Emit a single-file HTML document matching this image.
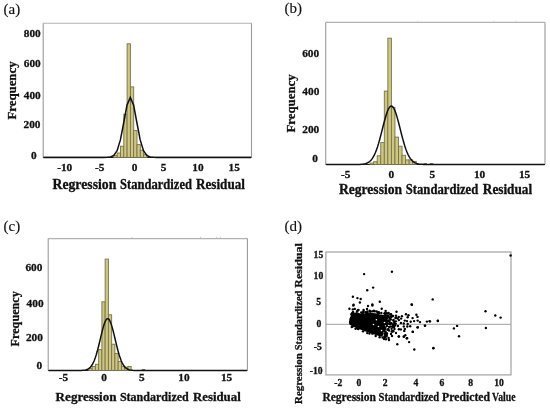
<!DOCTYPE html>
<html><head><meta charset="utf-8"><title>Figure</title>
<style>html,body{margin:0;padding:0;background:#fff;width:550px;height:408px;overflow:hidden}svg{display:block}</style>
</head><body>
<svg width="550" height="408" viewBox="0 0 550 408" font-family="'Liberation Serif', serif" fill="#111">
<style>text{stroke:#111;stroke-width:0.3px} text.n{stroke-width:0.15px}</style>
<rect width="550" height="408" fill="#fff"/>
<text class="n" x="3.60" y="13.60" font-size="15" font-weight="normal" text-anchor="start" >(a)</text>
<line x1="43.2" y1="23.3" x2="251.5" y2="23.3" stroke="#b2b2b2" stroke-width="1.1"/>
<path d="M43.2,157.4 V23.3 M251.5,23.3 V157.4" fill="none" stroke="#9a9a9a" stroke-width="1.1"/>
<line x1="43.2" y1="157.4" x2="251.5" y2="157.4" stroke="#202020" stroke-width="1.1"/>
<rect x="113.90" y="155.30" width="3.30" height="2.10" fill="#cfc680" stroke="#77724c" stroke-width="0.9"/>
<rect x="117.20" y="153.00" width="3.30" height="4.40" fill="#cfc680" stroke="#77724c" stroke-width="0.9"/>
<rect x="120.50" y="146.20" width="3.30" height="11.20" fill="#cfc680" stroke="#77724c" stroke-width="0.9"/>
<rect x="123.80" y="114.20" width="3.30" height="43.20" fill="#cfc680" stroke="#77724c" stroke-width="0.9"/>
<rect x="127.10" y="43.80" width="3.30" height="113.60" fill="#cfc680" stroke="#77724c" stroke-width="0.9"/>
<rect x="130.40" y="86.90" width="3.30" height="70.50" fill="#cfc680" stroke="#77724c" stroke-width="0.9"/>
<rect x="133.70" y="130.60" width="3.30" height="26.80" fill="#cfc680" stroke="#77724c" stroke-width="0.9"/>
<rect x="137.00" y="144.60" width="3.30" height="12.80" fill="#cfc680" stroke="#77724c" stroke-width="0.9"/>
<rect x="140.30" y="150.20" width="3.30" height="7.20" fill="#cfc680" stroke="#77724c" stroke-width="0.9"/>
<rect x="143.60" y="154.50" width="3.30" height="2.90" fill="#cfc680" stroke="#77724c" stroke-width="0.9"/>
<polyline points="43.70,157.40 44.50,157.40 47.80,157.40 51.10,157.40 54.40,157.40 57.70,157.40 61.00,157.40 64.30,157.40 67.60,157.40 70.90,157.40 74.20,157.40 77.50,157.40 80.80,157.40 84.10,157.40 87.40,157.40 90.70,157.40 94.00,157.40 97.30,157.40 100.60,157.40 103.90,157.39 107.20,157.33 110.50,156.97 113.80,155.46 117.10,150.72 120.40,139.94 123.70,122.74 127.00,105.09 130.30,97.40 133.60,105.09 136.90,122.74 140.20,139.94 143.50,150.72 146.80,155.46 150.10,156.97 153.40,157.33 156.70,157.39 160.00,157.40 163.30,157.40 166.60,157.40 169.90,157.40 173.20,157.40 176.50,157.40 179.80,157.40 183.10,157.40 186.40,157.40 189.70,157.40 193.00,157.40 196.30,157.40 199.60,157.40 202.90,157.40 206.20,157.40 209.50,157.40 212.80,157.40 216.10,157.40 219.40,157.40 222.70,157.40 226.00,157.40 229.30,157.40 232.60,157.40 235.90,157.40 239.20,157.40 242.50,157.40 245.80,157.40 249.10,157.40 251.00,157.40" fill="none" stroke="#111" stroke-width="1.5"/>
<text x="32.25" y="37.15" font-size="11.3" font-weight="bold" text-anchor="middle" >800</text>
<text x="32.30" y="66.90" font-size="11.3" font-weight="bold" text-anchor="middle" >600</text>
<text x="32.30" y="99.40" font-size="11.3" font-weight="bold" text-anchor="middle" >400</text>
<text x="32.00" y="128.00" font-size="11.3" font-weight="bold" text-anchor="middle" >200</text>
<text x="33.90" y="158.50" font-size="11.3" font-weight="bold" text-anchor="middle" >0</text>
<text x="64.70" y="170.70" font-size="11.3" font-weight="bold" text-anchor="middle" >-10</text>
<text x="99.60" y="170.70" font-size="11.3" font-weight="bold" text-anchor="middle" >-5</text>
<text x="134.70" y="170.70" font-size="11.3" font-weight="bold" text-anchor="middle" >0</text>
<text x="163.50" y="170.70" font-size="11.3" font-weight="bold" text-anchor="middle" >5</text>
<text x="198.00" y="170.70" font-size="11.3" font-weight="bold" text-anchor="middle" >10</text>
<text x="234.20" y="170.70" font-size="11.3" font-weight="bold" text-anchor="middle" >15</text>
<text x="52.50" y="189.20" font-size="13.7" font-weight="bold" textLength="63.80" lengthAdjust="spacingAndGlyphs">Regression</text>
<text x="120.00" y="189.20" font-size="13.7" font-weight="bold" textLength="72.00" lengthAdjust="spacingAndGlyphs">Standardized</text>
<text x="196.00" y="189.20" font-size="13.7" font-weight="bold" textLength="49.00" lengthAdjust="spacingAndGlyphs">Residual</text>
<text x="0" y="0" font-size="13.3" font-weight="bold" textLength="58.20" lengthAdjust="spacingAndGlyphs" transform="translate(16.00,119.60) rotate(-90)">Frequency</text>
<text class="n" x="284.50" y="13.30" font-size="15" font-weight="normal" text-anchor="start" >(b)</text>
<line x1="325.7" y1="22.4" x2="545.0" y2="22.4" stroke="#b2b2b2" stroke-width="1.1"/>
<path d="M325.7,164.5 V22.4 M545.0,22.4 V164.5" fill="none" stroke="#9a9a9a" stroke-width="1.1"/>
<line x1="325.7" y1="164.5" x2="545.0" y2="164.5" stroke="#202020" stroke-width="1.1"/>
<line x1="417.7" y1="20.799999999999997" x2="417.7" y2="22.4" stroke="#c8c8c8" stroke-width="0.8"/>
<line x1="494.0" y1="20.799999999999997" x2="494.0" y2="22.4" stroke="#c8c8c8" stroke-width="0.8"/>
<line x1="515.8" y1="20.799999999999997" x2="515.8" y2="22.4" stroke="#c8c8c8" stroke-width="0.8"/>
<rect x="370.10" y="163.10" width="3.55" height="1.40" fill="#cfc680" stroke="#77724c" stroke-width="0.9"/>
<rect x="373.65" y="161.70" width="3.55" height="2.80" fill="#cfc680" stroke="#77724c" stroke-width="0.9"/>
<rect x="377.20" y="155.80" width="3.55" height="8.70" fill="#cfc680" stroke="#77724c" stroke-width="0.9"/>
<rect x="380.75" y="142.60" width="3.55" height="21.90" fill="#cfc680" stroke="#77724c" stroke-width="0.9"/>
<rect x="384.30" y="91.10" width="3.55" height="73.40" fill="#cfc680" stroke="#77724c" stroke-width="0.9"/>
<rect x="387.85" y="38.20" width="3.55" height="126.30" fill="#cfc680" stroke="#77724c" stroke-width="0.9"/>
<rect x="391.40" y="107.50" width="3.55" height="57.00" fill="#cfc680" stroke="#77724c" stroke-width="0.9"/>
<rect x="394.95" y="137.10" width="3.55" height="27.40" fill="#cfc680" stroke="#77724c" stroke-width="0.9"/>
<rect x="398.50" y="146.20" width="3.55" height="18.30" fill="#cfc680" stroke="#77724c" stroke-width="0.9"/>
<rect x="402.05" y="155.30" width="3.55" height="9.20" fill="#cfc680" stroke="#77724c" stroke-width="0.9"/>
<rect x="405.60" y="159.90" width="3.55" height="4.60" fill="#cfc680" stroke="#77724c" stroke-width="0.9"/>
<rect x="409.15" y="159.90" width="3.55" height="4.60" fill="#cfc680" stroke="#77724c" stroke-width="0.9"/>
<rect x="412.70" y="161.40" width="3.55" height="3.10" fill="#cfc680" stroke="#77724c" stroke-width="0.9"/>
<rect x="423.4" y="163.0" width="3.5" height="1.2" fill="#77724c"/>
<rect x="429.8" y="163.0" width="3.5" height="1.2" fill="#77724c"/>
<polyline points="326.20,164.50 327.29,164.50 328.38,164.50 329.47,164.50 330.57,164.50 331.66,164.50 332.75,164.50 333.84,164.50 334.93,164.50 336.02,164.50 337.12,164.50 338.21,164.50 339.30,164.50 340.39,164.50 341.48,164.50 342.57,164.50 343.66,164.50 344.76,164.50 345.85,164.50 346.94,164.50 348.03,164.50 349.12,164.50 350.21,164.50 351.30,164.50 352.40,164.50 353.49,164.49 354.58,164.49 355.67,164.48 356.76,164.47 357.85,164.45 358.94,164.42 360.04,164.38 361.13,164.31 362.22,164.22 363.31,164.08 364.40,163.89 365.49,163.63 366.59,163.26 367.68,162.77 368.77,162.13 369.86,161.29 370.95,160.21 372.04,158.87 373.13,157.21 374.23,155.21 375.32,152.83 376.41,150.07 377.50,146.92 378.59,143.39 379.68,139.54 380.77,135.43 381.87,131.14 382.96,126.80 384.05,122.52 385.14,118.46 386.23,114.75 387.32,111.56 388.42,108.99 389.51,107.18 390.60,106.18 391.69,106.06 392.78,106.80 393.87,108.39 394.96,110.75 396.06,113.78 397.15,117.36 398.24,121.33 399.33,125.56 400.42,129.90 401.51,134.22 402.61,138.39 403.70,142.32 404.79,145.95 405.88,149.21 406.97,152.09 408.06,154.57 409.15,156.68 410.25,158.43 411.34,159.86 412.43,161.01 413.52,161.91 414.61,162.61 415.70,163.14 416.79,163.53 417.89,163.82 418.98,164.04 420.07,164.19 421.16,164.29 422.25,164.36 423.34,164.41 424.44,164.44 425.53,164.46 426.62,164.48 427.71,164.49 428.80,164.49 429.89,164.50 430.98,164.50 432.08,164.50 433.17,164.50 434.26,164.50 435.35,164.50 436.44,164.50 437.53,164.50 438.62,164.50 439.72,164.50 440.81,164.50 441.90,164.50 442.99,164.50 444.08,164.50 445.17,164.50 446.26,164.50 447.36,164.50 448.45,164.50 449.54,164.50 450.63,164.50 451.72,164.50 452.81,164.50 453.91,164.50 455.00,164.50 456.09,164.50 457.18,164.50 458.27,164.50 459.36,164.50 460.45,164.50 461.55,164.50 462.64,164.50 463.73,164.50 464.82,164.50 465.91,164.50 467.00,164.50 468.10,164.50 469.19,164.50 470.28,164.50 471.37,164.50 472.46,164.50 473.55,164.50 474.64,164.50 475.74,164.50 476.83,164.50 477.92,164.50 479.01,164.50 480.10,164.50 481.19,164.50 482.28,164.50 483.38,164.50 484.47,164.50 485.56,164.50 486.65,164.50 487.74,164.50 488.83,164.50 489.92,164.50 491.02,164.50 492.11,164.50 493.20,164.50 494.29,164.50 495.38,164.50 496.47,164.50 497.57,164.50 498.66,164.50 499.75,164.50 500.84,164.50 501.93,164.50 503.02,164.50 504.11,164.50 505.21,164.50 506.30,164.50 507.39,164.50 508.48,164.50 509.57,164.50 510.66,164.50 511.75,164.50 512.85,164.50 513.94,164.50 515.03,164.50 516.12,164.50 517.21,164.50 518.30,164.50 519.40,164.50 520.49,164.50 521.58,164.50 522.67,164.50 523.76,164.50 524.85,164.50 525.94,164.50 527.04,164.50 528.13,164.50 529.22,164.50 530.31,164.50 531.40,164.50 532.49,164.50 533.59,164.50 534.68,164.50 535.77,164.50 536.86,164.50 537.95,164.50 539.04,164.50 540.13,164.50 541.23,164.50 542.32,164.50 543.41,164.50 544.50,164.50" fill="none" stroke="#111" stroke-width="1.5"/>
<text x="310.65" y="57.10" font-size="11.3" font-weight="bold" text-anchor="middle" >600</text>
<text x="310.85" y="95.20" font-size="11.3" font-weight="bold" text-anchor="middle" >400</text>
<text x="310.80" y="132.90" font-size="11.3" font-weight="bold" text-anchor="middle" >200</text>
<text x="315.00" y="162.30" font-size="11.3" font-weight="bold" text-anchor="middle" >0</text>
<text x="345.70" y="177.70" font-size="11.3" font-weight="bold" text-anchor="middle" >-5</text>
<text x="391.30" y="177.70" font-size="11.3" font-weight="bold" text-anchor="middle" >0</text>
<text x="432.40" y="177.70" font-size="11.3" font-weight="bold" text-anchor="middle" >5</text>
<text x="479.60" y="177.70" font-size="11.3" font-weight="bold" text-anchor="middle" >10</text>
<text x="524.60" y="177.70" font-size="11.3" font-weight="bold" text-anchor="middle" >15</text>
<text x="338.90" y="193.60" font-size="13.7" font-weight="bold" textLength="63.20" lengthAdjust="spacingAndGlyphs">Regression</text>
<text x="405.80" y="193.60" font-size="13.7" font-weight="bold" textLength="72.40" lengthAdjust="spacingAndGlyphs">Standardized</text>
<text x="482.80" y="193.60" font-size="13.7" font-weight="bold" textLength="49.40" lengthAdjust="spacingAndGlyphs">Residual</text>
<text x="0" y="0" font-size="13.3" font-weight="bold" textLength="58.10" lengthAdjust="spacingAndGlyphs" transform="translate(294.90,132.50) rotate(-90)">Frequency</text>
<text class="n" x="3.50" y="230.90" font-size="15" font-weight="normal" text-anchor="start" >(c)</text>
<line x1="48.2" y1="238.6" x2="247.4" y2="238.6" stroke="#b2b2b2" stroke-width="1.1"/>
<path d="M48.2,370.5 V238.6 M247.4,238.6 V370.5" fill="none" stroke="#9a9a9a" stroke-width="1.1"/>
<line x1="48.2" y1="370.5" x2="247.4" y2="370.5" stroke="#202020" stroke-width="1.1"/>
<line x1="132" y1="236.79999999999998" x2="132" y2="238.6" stroke="#bbb" stroke-width="0.8"/>
<line x1="200.6" y1="236.79999999999998" x2="200.6" y2="238.6" stroke="#bbb" stroke-width="0.8"/>
<line x1="216.8" y1="236.79999999999998" x2="216.8" y2="238.6" stroke="#bbb" stroke-width="0.8"/>
<line x1="220.4" y1="236.79999999999998" x2="220.4" y2="238.6" stroke="#bbb" stroke-width="0.8"/>
<rect x="88.90" y="368.30" width="3.25" height="2.20" fill="#cfc680" stroke="#77724c" stroke-width="0.9"/>
<rect x="92.15" y="366.50" width="3.25" height="4.00" fill="#cfc680" stroke="#77724c" stroke-width="0.9"/>
<rect x="95.40" y="364.30" width="3.25" height="6.20" fill="#cfc680" stroke="#77724c" stroke-width="0.9"/>
<rect x="98.65" y="349.60" width="3.25" height="20.90" fill="#cfc680" stroke="#77724c" stroke-width="0.9"/>
<rect x="101.90" y="301.80" width="3.25" height="68.70" fill="#cfc680" stroke="#77724c" stroke-width="0.9"/>
<rect x="105.15" y="259.10" width="3.25" height="111.40" fill="#cfc680" stroke="#77724c" stroke-width="0.9"/>
<rect x="108.40" y="314.80" width="3.25" height="55.70" fill="#cfc680" stroke="#77724c" stroke-width="0.9"/>
<rect x="111.65" y="344.20" width="3.25" height="26.30" fill="#cfc680" stroke="#77724c" stroke-width="0.9"/>
<rect x="114.90" y="353.40" width="3.25" height="17.10" fill="#cfc680" stroke="#77724c" stroke-width="0.9"/>
<rect x="118.15" y="361.40" width="3.25" height="9.10" fill="#cfc680" stroke="#77724c" stroke-width="0.9"/>
<rect x="121.40" y="366.20" width="3.25" height="4.30" fill="#cfc680" stroke="#77724c" stroke-width="0.9"/>
<rect x="124.65" y="367.20" width="3.25" height="3.30" fill="#cfc680" stroke="#77724c" stroke-width="0.9"/>
<rect x="127.90" y="366.40" width="3.25" height="4.10" fill="#cfc680" stroke="#77724c" stroke-width="0.9"/>
<rect x="141.8" y="369.0" width="3.4" height="1.2" fill="#77724c"/>
<polyline points="48.70,370.50 49.69,370.50 50.68,370.50 51.67,370.50 52.66,370.50 53.66,370.50 54.65,370.50 55.64,370.50 56.63,370.50 57.62,370.50 58.61,370.50 59.60,370.50 60.59,370.50 61.58,370.50 62.57,370.50 63.57,370.50 64.56,370.50 65.55,370.50 66.54,370.50 67.53,370.50 68.52,370.50 69.51,370.50 70.50,370.50 71.49,370.50 72.48,370.50 73.47,370.50 74.47,370.50 75.46,370.50 76.45,370.49 77.44,370.49 78.43,370.48 79.42,370.47 80.41,370.44 81.40,370.41 82.39,370.35 83.39,370.27 84.38,370.14 85.37,369.95 86.36,369.69 87.35,369.32 88.34,368.81 89.33,368.12 90.32,367.21 91.31,366.03 92.30,364.54 93.30,362.70 94.29,360.46 95.28,357.82 96.27,354.76 97.26,351.32 98.25,347.54 99.24,343.50 100.23,339.31 101.22,335.12 102.21,331.07 103.21,327.34 104.20,324.10 105.19,321.51 106.18,319.69 107.17,318.73 108.16,318.70 109.15,319.59 110.14,321.35 111.13,323.89 112.12,327.09 113.12,330.79 114.11,334.82 115.10,339.01 116.09,343.20 117.08,347.25 118.07,351.06 119.06,354.53 120.05,357.61 121.04,360.29 122.03,362.55 123.03,364.42 124.02,365.93 125.01,367.13 126.00,368.06 126.99,368.76 127.98,369.29 128.97,369.67 129.96,369.94 130.95,370.13 131.94,370.26 132.94,370.35 133.93,370.40 134.92,370.44 135.91,370.46 136.90,370.48 137.89,370.49 138.88,370.49 139.87,370.50 140.86,370.50 141.85,370.50 142.84,370.50 143.84,370.50 144.83,370.50 145.82,370.50 146.81,370.50 147.80,370.50 148.79,370.50 149.78,370.50 150.77,370.50 151.76,370.50 152.75,370.50 153.75,370.50 154.74,370.50 155.73,370.50 156.72,370.50 157.71,370.50 158.70,370.50 159.69,370.50 160.68,370.50 161.67,370.50 162.67,370.50 163.66,370.50 164.65,370.50 165.64,370.50 166.63,370.50 167.62,370.50 168.61,370.50 169.60,370.50 170.59,370.50 171.58,370.50 172.57,370.50 173.57,370.50 174.56,370.50 175.55,370.50 176.54,370.50 177.53,370.50 178.52,370.50 179.51,370.50 180.50,370.50 181.49,370.50 182.49,370.50 183.48,370.50 184.47,370.50 185.46,370.50 186.45,370.50 187.44,370.50 188.43,370.50 189.42,370.50 190.41,370.50 191.40,370.50 192.39,370.50 193.39,370.50 194.38,370.50 195.37,370.50 196.36,370.50 197.35,370.50 198.34,370.50 199.33,370.50 200.32,370.50 201.31,370.50 202.31,370.50 203.30,370.50 204.29,370.50 205.28,370.50 206.27,370.50 207.26,370.50 208.25,370.50 209.24,370.50 210.23,370.50 211.22,370.50 212.21,370.50 213.21,370.50 214.20,370.50 215.19,370.50 216.18,370.50 217.17,370.50 218.16,370.50 219.15,370.50 220.14,370.50 221.13,370.50 222.12,370.50 223.12,370.50 224.11,370.50 225.10,370.50 226.09,370.50 227.08,370.50 228.07,370.50 229.06,370.50 230.05,370.50 231.04,370.50 232.04,370.50 233.03,370.50 234.02,370.50 235.01,370.50 236.00,370.50 236.99,370.50 237.98,370.50 238.97,370.50 239.96,370.50 240.95,370.50 241.94,370.50 242.94,370.50 243.93,370.50 244.92,370.50 245.91,370.50 246.90,370.50" fill="none" stroke="#111" stroke-width="1.5"/>
<text x="33.90" y="271.40" font-size="11.3" font-weight="bold" text-anchor="middle" >600</text>
<text x="35.10" y="307.20" font-size="11.3" font-weight="bold" text-anchor="middle" >400</text>
<text x="34.40" y="341.00" font-size="11.3" font-weight="bold" text-anchor="middle" >200</text>
<text x="39.35" y="368.60" font-size="11.3" font-weight="bold" text-anchor="middle" >0</text>
<text x="63.50" y="381.30" font-size="11.3" font-weight="bold" text-anchor="middle" >-5</text>
<text x="104.10" y="381.30" font-size="11.3" font-weight="bold" text-anchor="middle" >0</text>
<text x="141.80" y="381.30" font-size="11.3" font-weight="bold" text-anchor="middle" >5</text>
<text x="184.00" y="381.30" font-size="11.3" font-weight="bold" text-anchor="middle" >10</text>
<text x="226.60" y="381.30" font-size="11.3" font-weight="bold" text-anchor="middle" >15</text>
<text x="55.60" y="400.50" font-size="13.1" font-weight="bold" textLength="61.00" lengthAdjust="spacingAndGlyphs">Regression</text>
<text x="119.90" y="400.50" font-size="13.1" font-weight="bold" textLength="68.90" lengthAdjust="spacingAndGlyphs">Standardized</text>
<text x="193.00" y="400.50" font-size="13.1" font-weight="bold" textLength="47.70" lengthAdjust="spacingAndGlyphs">Residual</text>
<text x="0" y="0" font-size="13.0" font-weight="bold" textLength="55.20" lengthAdjust="spacingAndGlyphs" transform="translate(19.10,346.40) rotate(-90)">Frequency</text>
<text class="n" x="284.50" y="231.00" font-size="15" font-weight="normal" text-anchor="start" >(d)</text>
<rect x="325.9" y="252.0" width="185.10000000000002" height="122.89999999999998" fill="none" stroke="#9a9a9a" stroke-width="1.1"/>
<line x1="325.9" y1="324.3" x2="511.0" y2="324.3" stroke="#a0a0a0" stroke-width="1"/>
<text x="318.40" y="258.10" font-size="9.6" font-weight="bold" text-anchor="middle" >15</text>
<text x="318.40" y="278.90" font-size="9.6" font-weight="bold" text-anchor="middle" >10</text>
<text x="318.70" y="305.40" font-size="9.6" font-weight="bold" text-anchor="middle" >5</text>
<text x="318.90" y="327.00" font-size="9.6" font-weight="bold" text-anchor="middle" >0</text>
<text x="317.80" y="350.30" font-size="9.6" font-weight="bold" text-anchor="middle" >-5</text>
<text x="316.20" y="374.30" font-size="9.6" font-weight="bold" text-anchor="middle" >-10</text>
<text x="338.30" y="386.30" font-size="9.6" font-weight="bold" text-anchor="middle" >-2</text>
<text x="359.00" y="386.30" font-size="9.6" font-weight="bold" text-anchor="middle" >0</text>
<text x="385.20" y="386.30" font-size="9.6" font-weight="bold" text-anchor="middle" >2</text>
<text x="415.80" y="386.30" font-size="9.6" font-weight="bold" text-anchor="middle" >4</text>
<text x="442.00" y="386.30" font-size="9.6" font-weight="bold" text-anchor="middle" >6</text>
<text x="470.60" y="386.30" font-size="9.6" font-weight="bold" text-anchor="middle" >8</text>
<text x="499.10" y="386.30" font-size="9.6" font-weight="bold" text-anchor="middle" >10</text>
<text x="322.40" y="400.80" font-size="12.0" font-weight="bold" textLength="53.60" lengthAdjust="spacingAndGlyphs">Regression</text>
<text x="378.60" y="400.80" font-size="12.0" font-weight="bold" textLength="60.60" lengthAdjust="spacingAndGlyphs">Standardized</text>
<text x="442.10" y="400.80" font-size="12.0" font-weight="bold" textLength="47.90" lengthAdjust="spacingAndGlyphs">Predicted</text>
<text x="492.10" y="400.80" font-size="12.0" font-weight="bold" textLength="23.40" lengthAdjust="spacingAndGlyphs">Value</text>
<text x="0" y="0" font-size="11.2" font-weight="bold" textLength="50.70" lengthAdjust="spacingAndGlyphs" transform="translate(301.70,404.00) rotate(-90)">Regression</text>
<text x="0" y="0" font-size="11.2" font-weight="bold" textLength="59.60" lengthAdjust="spacingAndGlyphs" transform="translate(301.70,350.30) rotate(-90)">Standardized</text>
<text x="0" y="0" font-size="11.2" font-weight="bold" textLength="44.40" lengthAdjust="spacingAndGlyphs" transform="translate(301.70,287.70) rotate(-90)">Residual</text>
<polygon points="348.9,322.6 349.5,318.5 350.8,315.8 352.8,313.8 356.7,311.9 359.5,313.2 362.6,314.3 365.5,313.0 368.5,312.4 372,313.0 375.4,313.3 378.5,314.2 382.2,314.8 385,315.2 385.5,322 384.5,328 382.5,336.8 380.3,336.4 374.4,334.4 368.5,332.5 362.6,330.5 357.7,328.5 352.8,326.6 349.4,324.6" fill="#000"/>
<circle cx="351.45" cy="314.48" r="1.2" fill="#000"/>
<circle cx="352.10" cy="314.02" r="1.2" fill="#000"/>
<circle cx="351.87" cy="313.51" r="1.2" fill="#000"/>
<circle cx="353.03" cy="312.12" r="1.2" fill="#000"/>
<circle cx="352.95" cy="312.34" r="1.2" fill="#000"/>
<circle cx="353.07" cy="313.14" r="1.2" fill="#000"/>
<circle cx="357.89" cy="310.08" r="1.2" fill="#000"/>
<circle cx="357.05" cy="311.20" r="1.2" fill="#000"/>
<circle cx="358.46" cy="310.05" r="1.2" fill="#000"/>
<circle cx="361.29" cy="312.54" r="1.2" fill="#000"/>
<circle cx="362.53" cy="313.86" r="1.2" fill="#000"/>
<circle cx="362.16" cy="313.12" r="1.2" fill="#000"/>
<circle cx="363.02" cy="313.52" r="1.2" fill="#000"/>
<circle cx="363.49" cy="311.56" r="1.2" fill="#000"/>
<circle cx="363.12" cy="312.31" r="1.2" fill="#000"/>
<circle cx="367.42" cy="311.39" r="1.2" fill="#000"/>
<circle cx="367.14" cy="312.21" r="1.2" fill="#000"/>
<circle cx="365.68" cy="312.15" r="1.2" fill="#000"/>
<circle cx="370.88" cy="311.44" r="1.2" fill="#000"/>
<circle cx="369.60" cy="310.82" r="1.2" fill="#000"/>
<circle cx="370.09" cy="311.62" r="1.2" fill="#000"/>
<circle cx="374.70" cy="311.19" r="1.2" fill="#000"/>
<circle cx="372.83" cy="311.34" r="1.2" fill="#000"/>
<circle cx="373.79" cy="310.67" r="1.2" fill="#000"/>
<circle cx="377.66" cy="312.94" r="1.2" fill="#000"/>
<circle cx="378.44" cy="313.59" r="1.2" fill="#000"/>
<circle cx="376.70" cy="311.48" r="1.2" fill="#000"/>
<circle cx="379.06" cy="312.77" r="1.2" fill="#000"/>
<circle cx="378.65" cy="312.25" r="1.2" fill="#000"/>
<circle cx="381.33" cy="312.93" r="1.2" fill="#000"/>
<circle cx="385.53" cy="314.07" r="1.2" fill="#000"/>
<circle cx="384.84" cy="313.29" r="1.2" fill="#000"/>
<circle cx="384.40" cy="313.59" r="1.2" fill="#000"/>
<circle cx="388.60" cy="313.04" r="1.2" fill="#000"/>
<circle cx="387.47" cy="313.52" r="1.2" fill="#000"/>
<circle cx="386.19" cy="313.18" r="1.2" fill="#000"/>
<circle cx="390.98" cy="314.25" r="1.2" fill="#000"/>
<circle cx="391.48" cy="316.35" r="1.2" fill="#000"/>
<circle cx="390.22" cy="314.56" r="1.2" fill="#000"/>
<circle cx="388.39" cy="316.00" r="1.2" fill="#000"/>
<circle cx="384.99" cy="319.20" r="1.2" fill="#000"/>
<circle cx="391.21" cy="316.80" r="1.2" fill="#000"/>
<circle cx="386.17" cy="318.35" r="1.2" fill="#000"/>
<circle cx="389.70" cy="324.10" r="1.2" fill="#000"/>
<circle cx="388.13" cy="317.27" r="1.2" fill="#000"/>
<circle cx="388.59" cy="327.59" r="1.2" fill="#000"/>
<circle cx="386.49" cy="333.52" r="1.2" fill="#000"/>
<circle cx="387.12" cy="321.63" r="1.2" fill="#000"/>
<circle cx="390.03" cy="323.39" r="1.2" fill="#000"/>
<circle cx="384.41" cy="336.57" r="1.2" fill="#000"/>
<circle cx="385.94" cy="319.38" r="1.2" fill="#000"/>
<circle cx="387.83" cy="320.63" r="1.2" fill="#000"/>
<circle cx="385.27" cy="328.46" r="1.2" fill="#000"/>
<circle cx="387.98" cy="315.59" r="1.2" fill="#000"/>
<circle cx="387.81" cy="323.62" r="1.2" fill="#000"/>
<circle cx="385.86" cy="336.47" r="1.2" fill="#000"/>
<circle cx="387.39" cy="326.84" r="1.2" fill="#000"/>
<circle cx="384.22" cy="330.38" r="1.2" fill="#000"/>
<circle cx="386.11" cy="335.29" r="1.2" fill="#000"/>
<circle cx="386.15" cy="334.74" r="1.2" fill="#000"/>
<circle cx="386.61" cy="324.13" r="1.2" fill="#000"/>
<circle cx="389.71" cy="317.78" r="1.2" fill="#000"/>
<circle cx="384.63" cy="316.87" r="1.2" fill="#000"/>
<circle cx="385.32" cy="320.09" r="1.2" fill="#000"/>
<circle cx="384.37" cy="322.98" r="1.2" fill="#000"/>
<circle cx="385.44" cy="315.51" r="1.2" fill="#000"/>
<circle cx="387.28" cy="317.73" r="1.2" fill="#000"/>
<circle cx="392.31" cy="316.06" r="1.2" fill="#000"/>
<circle cx="384.69" cy="329.01" r="1.2" fill="#000"/>
<circle cx="386.69" cy="321.05" r="1.2" fill="#000"/>
<circle cx="384.83" cy="323.51" r="1.2" fill="#000"/>
<circle cx="386.68" cy="334.18" r="1.2" fill="#000"/>
<circle cx="386.86" cy="325.75" r="1.2" fill="#000"/>
<circle cx="384.94" cy="317.39" r="1.2" fill="#000"/>
<circle cx="385.84" cy="323.04" r="1.2" fill="#000"/>
<circle cx="384.45" cy="333.73" r="1.2" fill="#000"/>
<circle cx="393.03" cy="316.01" r="1.2" fill="#000"/>
<circle cx="384.79" cy="327.12" r="1.2" fill="#000"/>
<circle cx="384.14" cy="327.45" r="1.2" fill="#000"/>
<circle cx="389.26" cy="327.12" r="1.2" fill="#000"/>
<circle cx="385.88" cy="334.49" r="1.2" fill="#000"/>
<circle cx="386.81" cy="321.24" r="1.2" fill="#000"/>
<circle cx="390.53" cy="319.17" r="1.2" fill="#000"/>
<circle cx="388.16" cy="327.22" r="1.2" fill="#000"/>
<circle cx="385.58" cy="322.75" r="1.2" fill="#000"/>
<circle cx="386.91" cy="333.35" r="1.2" fill="#000"/>
<circle cx="386.18" cy="334.26" r="1.2" fill="#000"/>
<circle cx="386.14" cy="333.50" r="1.2" fill="#000"/>
<circle cx="388.12" cy="320.49" r="1.2" fill="#000"/>
<circle cx="384.20" cy="323.32" r="1.2" fill="#000"/>
<circle cx="386.65" cy="316.11" r="1.2" fill="#000"/>
<circle cx="389.31" cy="321.20" r="1.2" fill="#000"/>
<circle cx="385.21" cy="336.54" r="1.2" fill="#000"/>
<circle cx="386.67" cy="336.11" r="1.2" fill="#000"/>
<circle cx="384.98" cy="336.51" r="1.2" fill="#000"/>
<circle cx="385.82" cy="320.35" r="1.2" fill="#000"/>
<circle cx="385.68" cy="319.83" r="1.2" fill="#000"/>
<circle cx="388.10" cy="329.23" r="1.2" fill="#000"/>
<circle cx="385.30" cy="333.99" r="1.2" fill="#000"/>
<circle cx="387.44" cy="329.87" r="1.2" fill="#000"/>
<circle cx="390.05" cy="317.37" r="1.2" fill="#000"/>
<circle cx="386.11" cy="335.52" r="1.2" fill="#000"/>
<circle cx="385.66" cy="332.00" r="1.2" fill="#000"/>
<circle cx="390.60" cy="319.43" r="1.2" fill="#000"/>
<circle cx="389.64" cy="322.82" r="1.2" fill="#000"/>
<circle cx="385.07" cy="336.88" r="1.2" fill="#000"/>
<circle cx="390.11" cy="324.33" r="1.2" fill="#000"/>
<circle cx="384.63" cy="331.45" r="1.2" fill="#000"/>
<circle cx="385.33" cy="318.29" r="1.2" fill="#000"/>
<circle cx="391.78" cy="331.63" r="1.2" fill="#000"/>
<circle cx="393.27" cy="331.28" r="1.2" fill="#000"/>
<circle cx="394.13" cy="321.89" r="1.2" fill="#000"/>
<circle cx="398.74" cy="317.05" r="1.2" fill="#000"/>
<circle cx="395.05" cy="325.58" r="1.2" fill="#000"/>
<circle cx="392.12" cy="331.18" r="1.2" fill="#000"/>
<circle cx="393.40" cy="320.39" r="1.2" fill="#000"/>
<circle cx="390.94" cy="326.60" r="1.2" fill="#000"/>
<circle cx="397.61" cy="318.50" r="1.2" fill="#000"/>
<circle cx="393.59" cy="325.33" r="1.2" fill="#000"/>
<circle cx="395.69" cy="323.86" r="1.2" fill="#000"/>
<circle cx="392.76" cy="324.84" r="1.2" fill="#000"/>
<circle cx="391.51" cy="323.21" r="1.2" fill="#000"/>
<circle cx="389.01" cy="330.43" r="1.2" fill="#000"/>
<circle cx="391.63" cy="328.84" r="1.2" fill="#000"/>
<circle cx="393.03" cy="326.14" r="1.2" fill="#000"/>
<circle cx="395.86" cy="317.85" r="1.2" fill="#000"/>
<circle cx="395.86" cy="321.36" r="1.2" fill="#000"/>
<circle cx="393.86" cy="327.16" r="1.2" fill="#000"/>
<circle cx="393.85" cy="324.27" r="1.2" fill="#000"/>
<circle cx="393.83" cy="325.37" r="1.2" fill="#000"/>
<circle cx="392.50" cy="326.72" r="1.2" fill="#000"/>
<circle cx="351.78" cy="327.01" r="1.2" fill="#000"/>
<circle cx="352.60" cy="326.57" r="1.2" fill="#000"/>
<circle cx="355.54" cy="328.78" r="1.2" fill="#000"/>
<circle cx="356.92" cy="328.10" r="1.2" fill="#000"/>
<circle cx="358.30" cy="329.11" r="1.2" fill="#000"/>
<circle cx="358.06" cy="328.71" r="1.2" fill="#000"/>
<circle cx="363.03" cy="331.35" r="1.2" fill="#000"/>
<circle cx="367.23" cy="333.11" r="1.2" fill="#000"/>
<circle cx="369.41" cy="333.57" r="1.2" fill="#000"/>
<circle cx="372.40" cy="333.67" r="1.2" fill="#000"/>
<circle cx="379.61" cy="337.32" r="1.2" fill="#000"/>
<circle cx="375.70" cy="335.97" r="1.2" fill="#000"/>
<circle cx="382.61" cy="337.59" r="1.2" fill="#000"/>
<circle cx="386.04" cy="339.23" r="1.2" fill="#000"/>
<circle cx="376.4" cy="319.7" r="0.8" fill="#fff"/>
<circle cx="378.5" cy="326.5" r="0.8" fill="#fff"/>
<circle cx="381.5" cy="330.5" r="0.8" fill="#fff"/>
<circle cx="384.5" cy="322.5" r="0.8" fill="#fff"/>
<circle cx="387.5" cy="327.5" r="0.8" fill="#fff"/>
<circle cx="373.5" cy="324.5" r="0.8" fill="#fff"/>
<circle cx="364.1" cy="274.1" r="1.2" fill="#000"/>
<circle cx="391.9" cy="271.8" r="1.2" fill="#000"/>
<circle cx="373.1" cy="287.6" r="1.2" fill="#000"/>
<circle cx="367.2" cy="290.3" r="1.2" fill="#000"/>
<circle cx="352.9" cy="296.7" r="1.2" fill="#000"/>
<circle cx="357.4" cy="298.1" r="1.2" fill="#000"/>
<circle cx="360.7" cy="299.0" r="1.2" fill="#000"/>
<circle cx="359.9" cy="302.5" r="1.2" fill="#000"/>
<circle cx="379.8" cy="301.8" r="1.2" fill="#000"/>
<circle cx="353.6" cy="304.8" r="1.2" fill="#000"/>
<circle cx="372.4" cy="304.5" r="1.2" fill="#000"/>
<circle cx="411.6" cy="304.5" r="1.2" fill="#000"/>
<circle cx="349.4" cy="308.7" r="1.2" fill="#000"/>
<circle cx="352.8" cy="309.4" r="1.2" fill="#000"/>
<circle cx="354.8" cy="308.9" r="1.2" fill="#000"/>
<circle cx="353.3" cy="305.5" r="1.2" fill="#000"/>
<circle cx="363.6" cy="309.9" r="1.2" fill="#000"/>
<circle cx="367" cy="308.9" r="1.2" fill="#000"/>
<circle cx="368" cy="306" r="1.2" fill="#000"/>
<circle cx="372.4" cy="305.5" r="1.2" fill="#000"/>
<circle cx="381.7" cy="308.7" r="1.2" fill="#000"/>
<circle cx="385.6" cy="310.9" r="1.2" fill="#000"/>
<circle cx="432.7" cy="299.4" r="1.2" fill="#000"/>
<circle cx="437.8" cy="321" r="1.2" fill="#000"/>
<circle cx="430" cy="321.4" r="1.2" fill="#000"/>
<circle cx="485.5" cy="311.2" r="1.2" fill="#000"/>
<circle cx="495.3" cy="315.5" r="1.2" fill="#000"/>
<circle cx="500.6" cy="317.6" r="1.2" fill="#000"/>
<circle cx="457.1" cy="325.9" r="1.2" fill="#000"/>
<circle cx="453.9" cy="328.4" r="1.2" fill="#000"/>
<circle cx="485.9" cy="328" r="1.2" fill="#000"/>
<circle cx="459" cy="336.3" r="1.2" fill="#000"/>
<circle cx="433.5" cy="348" r="1.2" fill="#000"/>
<circle cx="397.3" cy="344.2" r="1.2" fill="#000"/>
<circle cx="409.1" cy="342.1" r="1.2" fill="#000"/>
<circle cx="414.3" cy="349.5" r="1.2" fill="#000"/>
<circle cx="433.3" cy="348.2" r="1.2" fill="#000"/>
<circle cx="412.7" cy="331.8" r="1.2" fill="#000"/>
<circle cx="417.6" cy="327.4" r="1.2" fill="#000"/>
<circle cx="425.1" cy="325.7" r="1.2" fill="#000"/>
<circle cx="399" cy="336.4" r="1.2" fill="#000"/>
<circle cx="403.9" cy="336.4" r="1.2" fill="#000"/>
<circle cx="407.1" cy="338.3" r="1.2" fill="#000"/>
<circle cx="388.6" cy="338" r="1.2" fill="#000"/>
<circle cx="411.9" cy="304.7" r="1.2" fill="#000"/>
<circle cx="396.5" cy="311.8" r="1.2" fill="#000"/>
<circle cx="406" cy="314.2" r="1.2" fill="#000"/>
<circle cx="408.5" cy="315.2" r="1.2" fill="#000"/>
<circle cx="401.9" cy="316.2" r="1.2" fill="#000"/>
<circle cx="407.7" cy="317.2" r="1.2" fill="#000"/>
<circle cx="416.4" cy="314.7" r="1.2" fill="#000"/>
<circle cx="417.5" cy="316.9" r="1.2" fill="#000"/>
<circle cx="412.6" cy="318.1" r="1.2" fill="#000"/>
<circle cx="396" cy="315.7" r="1.2" fill="#000"/>
<circle cx="398.9" cy="320.1" r="1.2" fill="#000"/>
<circle cx="401.1" cy="318.6" r="1.2" fill="#000"/>
<circle cx="404.8" cy="320.6" r="1.2" fill="#000"/>
<circle cx="407" cy="321.1" r="1.2" fill="#000"/>
<circle cx="410.7" cy="321.8" r="1.2" fill="#000"/>
<circle cx="414.1" cy="321.1" r="1.2" fill="#000"/>
<circle cx="417.7" cy="320.6" r="1.2" fill="#000"/>
<circle cx="420" cy="322.1" r="1.2" fill="#000"/>
<circle cx="426.9" cy="321.6" r="1.2" fill="#000"/>
<circle cx="429.5" cy="321.1" r="1.2" fill="#000"/>
<circle cx="437.9" cy="320.8" r="1.2" fill="#000"/>
<circle cx="395" cy="323.5" r="1.2" fill="#000"/>
<circle cx="400.9" cy="323" r="1.2" fill="#000"/>
<circle cx="403.8" cy="323.5" r="1.2" fill="#000"/>
<circle cx="407.7" cy="324" r="1.2" fill="#000"/>
<circle cx="410.2" cy="326.3" r="1.2" fill="#000"/>
<circle cx="424.9" cy="325.7" r="1.2" fill="#000"/>
<circle cx="417.7" cy="327.3" r="1.2" fill="#000"/>
<circle cx="397.9" cy="326" r="1.2" fill="#000"/>
<circle cx="403.8" cy="326.5" r="1.2" fill="#000"/>
<circle cx="407.3" cy="326.5" r="1.2" fill="#000"/>
<circle cx="398.9" cy="329.2" r="1.2" fill="#000"/>
<circle cx="404.8" cy="328.9" r="1.2" fill="#000"/>
<circle cx="404.3" cy="330.9" r="1.2" fill="#000"/>
<circle cx="412.8" cy="331.9" r="1.2" fill="#000"/>
<circle cx="398.7" cy="336.5" r="1.2" fill="#000"/>
<circle cx="403.8" cy="336.8" r="1.2" fill="#000"/>
<circle cx="405.3" cy="335.3" r="1.2" fill="#000"/>
<circle cx="406.8" cy="338.2" r="1.2" fill="#000"/>
<circle cx="400.9" cy="329.4" r="1.2" fill="#000"/>
<circle cx="393.5" cy="320" r="1.2" fill="#000"/>
<circle cx="394" cy="326" r="1.2" fill="#000"/>
<circle cx="393" cy="331" r="1.2" fill="#000"/>
<circle cx="391" cy="334" r="1.2" fill="#000"/>
<circle cx="395.5" cy="318" r="1.2" fill="#000"/>
<circle cx="394.5" cy="329" r="1.2" fill="#000"/>
<circle cx="392" cy="336" r="1.2" fill="#000"/>
<circle cx="396" cy="333" r="1.2" fill="#000"/>
<circle cx="389" cy="340" r="1.2" fill="#000"/>
<circle cx="384" cy="339" r="1.2" fill="#000"/>
<circle cx="510.6" cy="255.5" r="1.2" fill="#000"/>
</svg>
</body></html>
